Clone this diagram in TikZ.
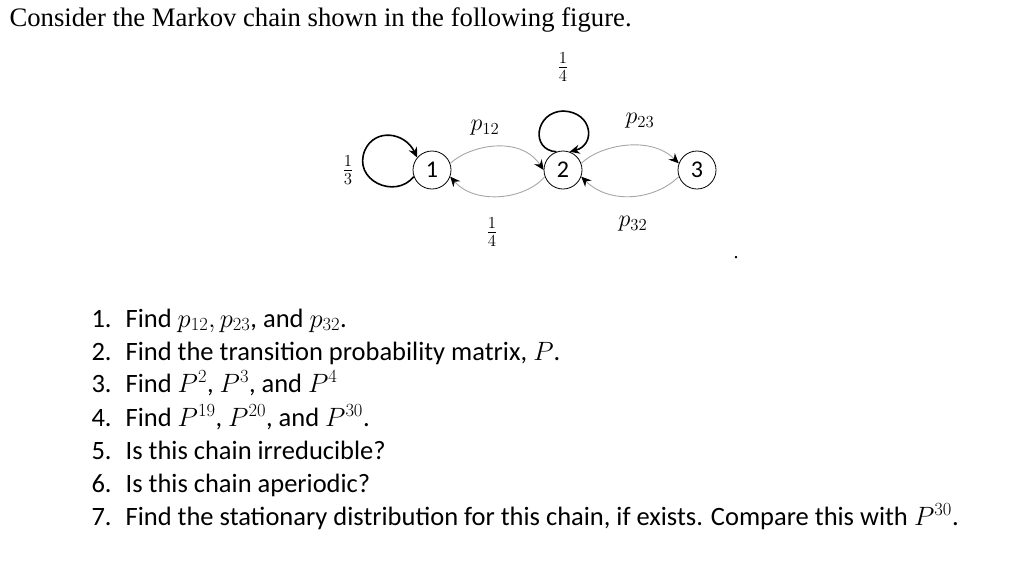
\RequirePackage{fix-cm}
\documentclass[tikz,border=0pt]{standalone}
\usepackage{fontspec}
\setmainfont{Liberation Serif}
\newfontfamily\calfont{Carlito}
\usetikzlibrary{arrows.meta}
\begin{document}
\begin{tikzpicture}[x=1pt,y=-1pt,
  st/.style={circle,draw,line width=0.8pt,minimum size=38pt,inner sep=0pt,font=\fontsize{24}{26}\selectfont\calfont},
  tr/.style={draw=gray!70,line width=0.9pt,-{Stealth[length=10pt,width=9pt,black]}},
  lp/.style={draw=black,line width=1.6pt,-{Stealth[length=10pt,width=9pt]}},
  lb/.style={font=\fontsize{24}{26}\selectfont},
  it/.style={anchor=base west,font=\fontsize{26.5}{30}\selectfont\calfont}]
\useasboundingbox (0,0) rectangle (1024,560);
\node[anchor=base west,font=\fontsize{26.7}{30}\selectfont] (t) at (6,26) {Consider the Markov chain shown in the following figure.};
\node[st] (n1) at (432,170) {1};
\node[st] (n2) at (563,170) {2};
\node[st] (n3) at (697,170) {3};
\draw[lp] (n1.200) .. controls (395,200) and (352,180) .. (365,150) .. controls (375,128) and (405,132) .. (n1.140);
\draw[lp] (n2.110) .. controls (530,150) and (535,112) .. (563,111) .. controls (593,112) and (596,145) .. (n2.70);
\draw[tr] (n1.20) .. controls (470,145) and (520,135) .. (n2.180);
\draw[tr] (n2.200) .. controls (525,200) and (475,205) .. (n1.340);
\draw[tr] (n2.20) .. controls (600,145) and (650,135) .. (n3.160);
\draw[tr] (n3.200) .. controls (655,200) and (610,205) .. (n2.340);
\node[lb] (a) at (348,170) {$\frac{1}{3}$};
\node[lb] (b) at (563,67) {$\frac{1}{4}$};
\node[lb] (c) at (492,232) {$\frac{1}{4}$};
\node[lb] (d) at (485,128) {$p_{12}$};
\node[lb] (e) at (640,121) {$p_{23}$};
\node[lb] (f) at (633,224) {$p_{32}$};
\node[font=\fontsize{20}{22}\selectfont] (dot) at (736,258) {.};
\node[it] (l1) at (88,327) {1.\hspace{14pt}Find $p_{12}, p_{23}$, and $p_{32}$.};
\node[it] (l2) at (88,360) {2.\hspace{14pt}Find the transition probability matrix, $P$.};
\node[it] (l3) at (88,392) {3.\hspace{14pt}Find $P^2$, $P^3$, and $P^4$};
\node[it] (l4) at (88,426) {4.\hspace{14pt}Find $P^{19}$, $P^{20}$, and $P^{30}$.};
\node[it] (l5) at (88,459) {5.\hspace{14pt}Is this chain irreducible?};
\node[it] (l6) at (88,492) {6.\hspace{14pt}Is this chain aperiodic?};
\node[it] (l7) at (88,525) {7.\hspace{14pt}Find the stationary distribution for this chain, if exists. Compare this with $P^{30}$.};
\end{tikzpicture}
\end{document}
